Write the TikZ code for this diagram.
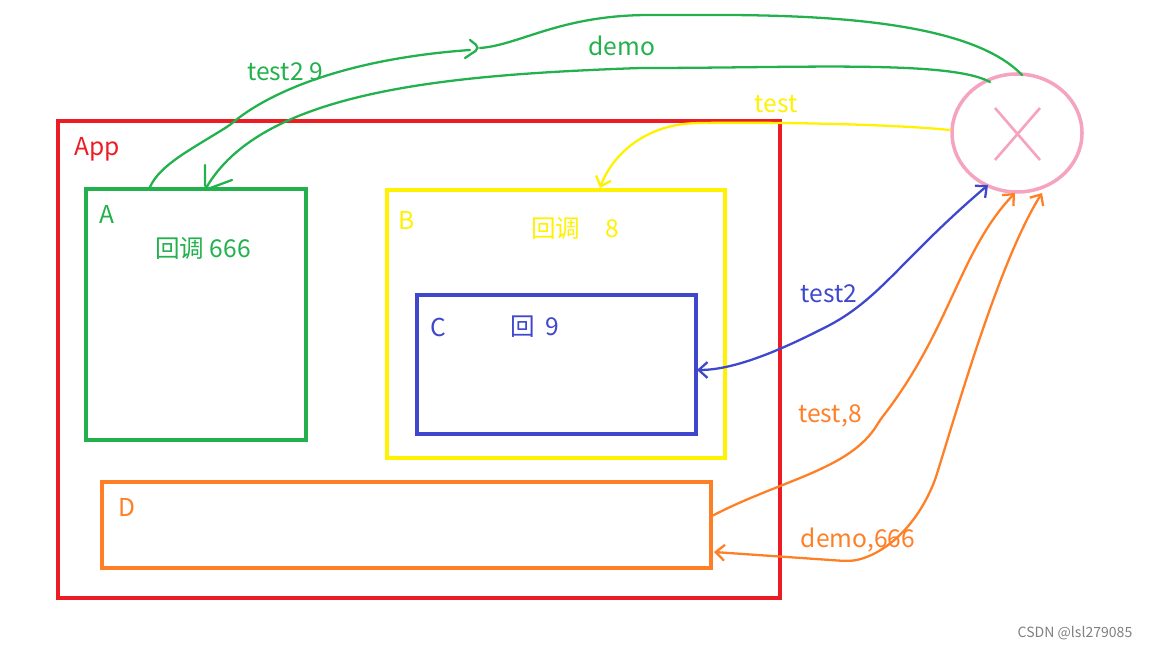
\documentclass[tikz,border=0pt]{standalone}
\usepackage{fontspec}
\setmainfont{Noto Sans CJK SC}
\usetikzlibrary{arrows.meta,shapes.geometric}
\definecolor{pgreen}{HTML}{22B14C}
\definecolor{pblue}{HTML}{3F48CC}
\definecolor{pred}{HTML}{ED1C24}
\definecolor{porange}{HTML}{FF7F27}
\definecolor{pyellow}{HTML}{FFF200}
\definecolor{ppink}{HTML}{F5A3C0}
\tikzset{
  box/.style={draw,line width=2.2pt,inner sep=0pt},
  lbl/.style={font=\fontsize{14}{16}\selectfont,anchor=center},
  pen/.style={line width=1.3pt,line cap=round,rounded corners=3pt},
  tip/.style={-{Straight Barb[length=5pt,width=9pt]}},
  tips/.style={{Straight Barb[length=5pt,width=9pt]}-{Straight Barb[length=5pt,width=9pt]}}
}
\begin{document}
\begin{tikzpicture}[x=0.02cm,y=-0.02cm]
    \useasboundingbox (0,0) rectangle (1152,648);
    % boxes
    \node[box,draw=pred,minimum width=722*0.02cm,minimum height=477*0.02cm,anchor=north west] (app) at (56,119) {};
    \node[box,draw=pgreen,minimum width=220*0.02cm,minimum height=251*0.02cm,anchor=north west] (a) at (84,187) {};
    \node[box,draw=pyellow,minimum width=338*0.02cm,minimum height=268*0.02cm,anchor=north west] (b) at (385,188) {};
    \node[box,draw=pblue,minimum width=279*0.02cm,minimum height=139*0.02cm,anchor=north west] (c) at (415,293) {};
    \node[box,draw=porange,minimum width=609*0.02cm,minimum height=86*0.02cm,anchor=north west] (d) at (100,480) {};
    % circle
    \node[draw=ppink,line width=2pt,ellipse,inner sep=0pt,minimum width=130*0.02cm,minimum height=118*0.02cm] (x) at (1017,133) {};
    \draw[ppink,line width=1.5pt] (995,108) -- (1040,160) (1040,108) -- (995,160);
    % texts
    \node[lbl,pred] (tapp) at (97,149) {App};
    \node[lbl,pgreen] (ta) at (107,214) {A};
    \node[lbl,pgreen] (tac) at (203,248) {回调 666};
    \node[lbl,pyellow] (tb) at (407,220) {B};
    \node[lbl,pyellow] (tbc) at (575,228) {回调\quad 8};
    \node[lbl,pblue] (tc) at (438,327) {C};
    \node[lbl,pblue] (tcc) at (535,327) {回\ \ 9};
    \node[lbl,porange] (td) at (127,507) {D};
    % points
    \coordinate (g1) at (1022,75);
    \coordinate (g2) at (990,82);
    \coordinate (ya) at (950,130);
    \coordinate (yb) at (600,188);
    \coordinate (ga) at (150,187);
    \coordinate (gb) at (205,190);
    \coordinate (bl) at (988,185);
    \coordinate (cr) at (697,370);
    \coordinate (o1) at (1015,193);
    \coordinate (o2) at (1042,193);
    \coordinate (dr) at (710,517);
    \coordinate (dl) at (714,552);
    % arrows
    \draw[pen,pgreen] (g1) .. controls (960,10) and (760,15) .. (655,15)
        .. controls (560,15) and (520,45) .. (480,48);
    \draw[pen,pgreen] (470,40) -- (480,48) -- (465,58);
    \draw[pen,pgreen] (470,50) .. controls (330,60) and (260,100) .. (230,125)
        .. controls (190,150) and (160,165) .. (ga);
    \draw[pen,pgreen] (g2) .. controls (950,60) and (800,68) .. (640,68)
        .. controls (450,75) and (260,90) .. (gb);
    \draw[pen,pgreen] (205,165) -- (gb) -- (232,180);
    \draw[pen,pyellow,tip] (ya) .. controls (900,125) and (800,122) .. (700,123)
        .. controls (640,125) and (610,160) .. (yb);
    \draw[pen,pblue,tips] (bl) .. controls (900,260) and (880,300) .. (820,330)
        .. controls (770,355) and (730,370) .. (cr);
    \draw[pen,porange,tip] (dr) .. controls (780,480) and (850,470) .. (880,420)
        .. controls (950,330) and (960,250) .. (o1);
    \draw[pen,porange,tips] (o2) .. controls (1000,260) and (960,400) .. (935,480)
        .. controls (910,540) and (870,560) .. (845,561) -- (dl);
    % labels
    \node[lbl,pgreen] (lt29) at (285,72) {test2 9};
    \node[lbl,pgreen] (ldemo) at (622,46) {demo};
    \node[lbl,pyellow] (ltest) at (776,104) {test};
    \node[lbl,pblue] (lt2) at (829,294) {test2};
    \node[lbl,porange] (lt8) at (830,416) {test,8};
    \node[lbl,porange] (ld666) at (858,540) {demo,666};
    \node[font=\fontsize{8}{10}\selectfont,gray] (wm) at (1075,633) {CSDN @lsl279085};
\end{tikzpicture}
\end{document}
